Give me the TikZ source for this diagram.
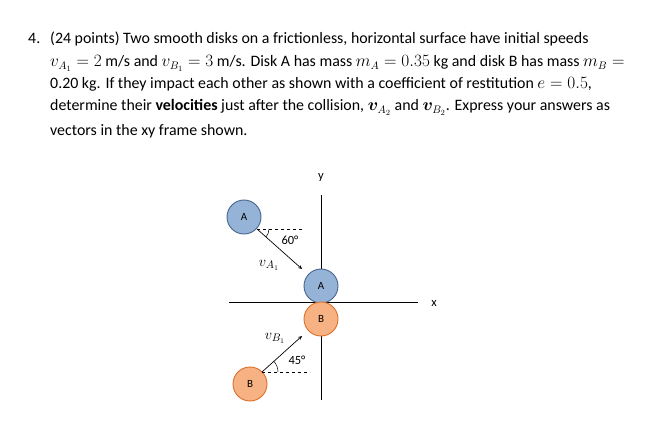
\documentclass[tikz,border=0pt]{standalone}
\usepackage{amsmath,bm}
\usepackage{fontspec}
\setmainfont{Carlito}
\begin{document}
\begin{tikzpicture}[x=1pt,y=-1pt,
 txt/.style={anchor=base west,inner sep=0pt,font=\fontsize{15.9}{18}\selectfont},
 lbl/.style={inner sep=0pt,font=\fontsize{12.5}{14}\selectfont},
 diskA/.style={circle,draw={rgb,255:red,70;green,100;blue,140},line width=0.9pt,fill={rgb,255:red,149;green,179;blue,215},minimum size=34pt,inner sep=0pt,font=\fontsize{11}{13}\selectfont},
 diskB/.style={circle,draw={rgb,255:red,220;green,110;blue,40},line width=0.9pt,fill={rgb,255:red,247;green,178;blue,132},minimum size=34pt,inner sep=0pt,font=\fontsize{11}{13}\selectfont},
 vec/.style={-stealth,line width=0.7pt},
 ref/.style={dashed,line width=0.6pt}]
\useasboundingbox (0,0) rectangle (659,441);
\node[txt] (n4) at (28,44) {4.};
\node[txt] (l1) at (50,44) {(24 points) Two smooth disks on a frictionless, horizontal surface have initial speeds};
\node[txt] (l2) at (50,67) {$v_{A_1}=2$ m/s and $v_{B_1}=3$ m/s. Disk A has mass $m_A=0.35$ kg and disk B has mass $m_B=$};
\node[txt] (l3) at (50,89) {0.20 kg. If they impact each other as shown with a coefficient of restitution $e=0.5$,};
\node[txt] (l4) at (50,111) {determine their \textbf{velocities} just after the collision, $\bm{v}_{A_2}$ and $\bm{v}_{B_2}$. Express your answers as};
\node[txt] (l5) at (50,136) {vectors in the xy frame shown.};
% axes
\coordinate (yt) at (321,195); \coordinate (yb) at (321,400);
\coordinate (xl) at (229,302); \coordinate (xr) at (418,302);
\draw[line width=0.8pt] (yt) -- (yb);
\draw[line width=0.8pt] (xl) -- (xr);
\node[lbl] (ylab) at (321,178) {y};
\node[lbl] (xlab) at (434,304) {x};
% disks
\node[diskA] (A2) at (321,286) {A};
\node[diskB] (B2) at (321,319) {B};
\node[diskA] (A1) at (244,217) {A};
\node[diskB] (B1) at (250,384) {B};
% A vector
\coordinate (a0) at (257,229); \coordinate (a1) at (302,269); \coordinate (ad) at (303,229);
\draw[ref] (a0) -- (ad);
\draw[vec] (a0) -- (a1);
\draw[line width=0.5pt] ([shift={(0:12)}]a0) arc[start angle=0,end angle=41.6,radius=12];
\node[lbl] (t60) at (290,240) {60°};
\node[lbl,font=\fontsize{15}{17}\selectfont] (vA) at (269,265) {$v_{A_1}$};
% B vector
\coordinate (b0) at (262,372); \coordinate (b1) at (302,336); \coordinate (bd) at (310,372);
\draw[ref] (b0) -- (bd);
\draw[vec] (b0) -- (b1);
\draw[line width=0.5pt] ([shift={(0:16)}]b0) arc[start angle=0,end angle=-42,radius=16];
\node[lbl] (t45) at (297,360) {45°};
\node[lbl,font=\fontsize{15}{17}\selectfont] (vB) at (275,338) {$v_{B_1}$};
\end{tikzpicture}
\end{document}
